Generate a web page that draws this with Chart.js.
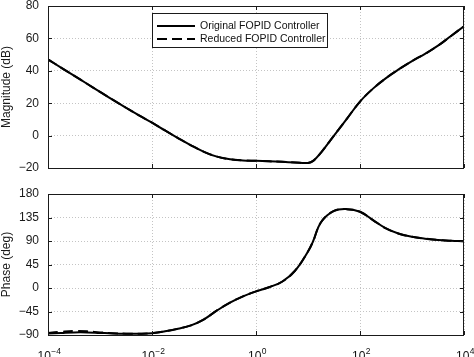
<!DOCTYPE html>
<html><head><meta charset="utf-8">
<script src="https://cdn.jsdelivr.net/npm/chart.js@4/dist/chart.umd.min.js"></script>
<style>
html,body{margin:0;padding:0;background:#fff;overflow:hidden}
#wrap{position:relative;width:474px;height:357px}
canvas{position:absolute;left:0;display:block}
</style></head><body>
<div id="wrap">
<canvas id="mag" width="474" height="180" style="top:0"></canvas>
<canvas id="ph" width="474" height="177" style="top:180px"></canvas>
</div>
<script>
// ---- data ----
const freqExponents = [-4,-3.75,-3.5,-3.25,-3,-2.75,-2.5,-2.25,-2,-1.75,-1.5,-1.25,-1,-0.75,-0.5,-0.25,0,0.25,0.5,0.75,1,1.1,1.25,1.5,1.75,2,2.25,2.5,2.75,3,3.25,3.5,3.75,4];
const magOriginal = [47,42,37,32,27,22,17.2,12.5,8,3.2,-1.5,-6,-10,-13,-14.6,-15.3,-15.6,-15.9,-16.2,-16.6,-16.9,-15.6,-10.5,0,10.5,21,29,35.5,41,46,50.5,55.5,61.5,67.5];
const magReduced  = [47,42,37,32,27,22,17.2,12.5,8,3.2,-1.5,-6,-10,-13,-14.6,-15.3,-15.6,-15.9,-16.2,-16.6,-16.9,-15.6,-10.5,0,10.5,21,29,35.5,41,46,50.5,55.5,61.5,67.5];
const phaseOriginal = [-87,-86,-85,-85,-86,-87,-87.5,-87.5,-86.5,-83,-78,-71.5,-60,-43,-28,-16,-6.5,1.5,12,33,70,90,126,147.5,151,146,130,114,104,98,94.5,92,90.5,89.5];
const phaseReduced  = [-86,-84,-82.5,-83,-85,-86.5,-87.5,-87.5,-86.5,-83,-78,-71.5,-60,-43,-28,-16,-6.5,1.5,12,33,70,90,126,147.5,151,146,130,114,104,98,94.5,92,90.5,89.5];
const magTicks = [-20,0,20,40,60,80];
const phaseTicks = [-90,-45,0,45,90,135,180];
const freqTickExponents = [-4,-2,0,2,4];
const seriesLabels = ['Original FOPID Controller','Reduced FOPID Controller'];
const yTitles = ['Magnitude (dB)','Phase (deg)'];

const FONT = "'Liberation Sans', Arial, Helvetica, sans-serif";
const fmt = v => String(v).replace('-', '\u2212');

function pts(vals){ return freqExponents.map((e,i)=>({x:Math.pow(10,e), y:vals[i]})); }

const frame = {
  id:'frame',
  afterDatasetsDraw(chart){
    const {ctx, chartArea:a, scales} = chart;
    ctx.save();
    ctx.strokeStyle='#1a1a1a'; ctx.lineWidth=1;
    const tl=4;
    ctx.beginPath();
    scales.y.ticks.forEach(t=>{const y=Math.round(scales.y.getPixelForValue(t.value))+0.5;
      ctx.moveTo(a.left,y);ctx.lineTo(a.left+tl,y);ctx.moveTo(a.right,y);ctx.lineTo(a.right-tl,y);});
    scales.x.ticks.forEach(t=>{const x=Math.round(scales.x.getPixelForValue(t.value))+0.5;
      ctx.moveTo(x,a.top);ctx.lineTo(x,a.top+tl);ctx.moveTo(x,a.bottom);ctx.lineTo(x,a.bottom-tl);});
    ctx.stroke();
    ctx.strokeRect(Math.round(a.left)+0.5, Math.round(a.top)+0.5, Math.round(a.right-a.left)-1, Math.round(a.bottom-a.top));
    ctx.restore();
  }
};

const boxLegend = {
  id:'boxLegend',
  afterDraw(chart){
    const ctx=chart.ctx; ctx.save();
    ctx.fillStyle='#fff'; ctx.fillRect(152.5,13.5,175,34);
    ctx.strokeStyle='#1a1a1a'; ctx.lineWidth=1; ctx.strokeRect(152.5,13.5,175,34);
    chart.data.datasets.forEach((ds,i)=>{
      const y=26+i*13;
      ctx.beginPath(); ctx.setLineDash(ds.borderDash||[]); ctx.lineWidth=2; ctx.strokeStyle='#000';
      ctx.moveTo(157,y); ctx.lineTo(195,y); ctx.stroke(); ctx.setLineDash([]);
      ctx.fillStyle='#111'; ctx.font='10.5px '+FONT; ctx.textBaseline='middle'; ctx.textAlign='left';
      ctx.fillText(ds.label,200,y);
    });
    ctx.restore();
  }
};

const xLabels = {
  id:'xLabels',
  afterDraw(chart){
    const s=chart.scales.x, ctx=chart.ctx; ctx.save();
    ctx.fillStyle='#111'; ctx.textBaseline='alphabetic'; ctx.textAlign='left';
    s.ticks.forEach(t=>{
      const e=Math.round(Math.log10(t.value));
      const base='10', sup=fmt(e);
      ctx.font='12px '+FONT; const w1=ctx.measureText(base).width;
      ctx.font='8.5px '+FONT; const w2=ctx.measureText(sup).width;
      const px=s.getPixelForValue(t.value);
      const x0=px-(w1+w2)/2+1;
      ctx.font='12px '+FONT; ctx.fillText(base,x0,180);
      ctx.font='8.5px '+FONT; ctx.fillText(sup,x0+w1+0.5,173.5);
    });
    ctx.restore();
  }
};

function makeChart(id, orig, red, yTicks, ymin, ymax, title, padTop, xH, isBottom){
  const grid = {color:'#c4c4c4', lineWidth:1, drawTicks:false};
  return new Chart(document.getElementById(id), {
    type:'line',
    data:{datasets:[
      {label:seriesLabels[0], data:pts(orig), borderColor:'#000', borderWidth:2, pointRadius:0, fill:false, tension:0.4},
      {label:seriesLabels[1], data:pts(red), borderColor:'#000', borderWidth:2, borderDash:[10,5], pointRadius:0, fill:false, tension:0.4}
    ]},
    options:{
      responsive:false, animation:false, devicePixelRatio:1,
      layout:{padding:{left:0,right:10,top:padTop,bottom:0}},
      plugins:{legend:{display:false}, tooltip:{enabled:false}},
      scales:{
        x:{type:'logarithmic', min:1e-4, max:1e4,
           afterBuildTicks(s){ s.ticks=freqTickExponents.map(e=>({value:Math.pow(10,e)})); },
           ticks:{display:false}, grid:grid, border:{display:false, dash:[1,2]},
           afterFit(s){ s.height=xH; s.paddingLeft=0; s.paddingRight=0; }},
        y:{min:ymin, max:ymax,
           afterBuildTicks(s){ s.ticks=yTicks.map(v=>({value:v})); },
           ticks:{padding:9, font:{family:FONT,size:12}, color:'#1a1a1a', callback:v=>fmt(v)},
           grid:grid, border:{display:false, dash:[1,2]},
           title:{display:true, text:title, font:{family:FONT,size:12,lineHeight:1.1}, color:'#1a1a1a', padding:{top:0,bottom:0}},
           afterFit(s){ s.width=48; s.paddingTop=0; s.paddingBottom=0; }}
      }
    },
    plugins: isBottom ? [frame, xLabels] : [frame, boxLegend]
  });
}

makeChart('mag', magOriginal, magReduced, magTicks, -20, 80, yTitles[0], 6, 12, false);
makeChart('ph', phaseOriginal, phaseReduced, phaseTicks, -90, 180, yTitles[1], 14, 22, true);
</script>
</body></html>
